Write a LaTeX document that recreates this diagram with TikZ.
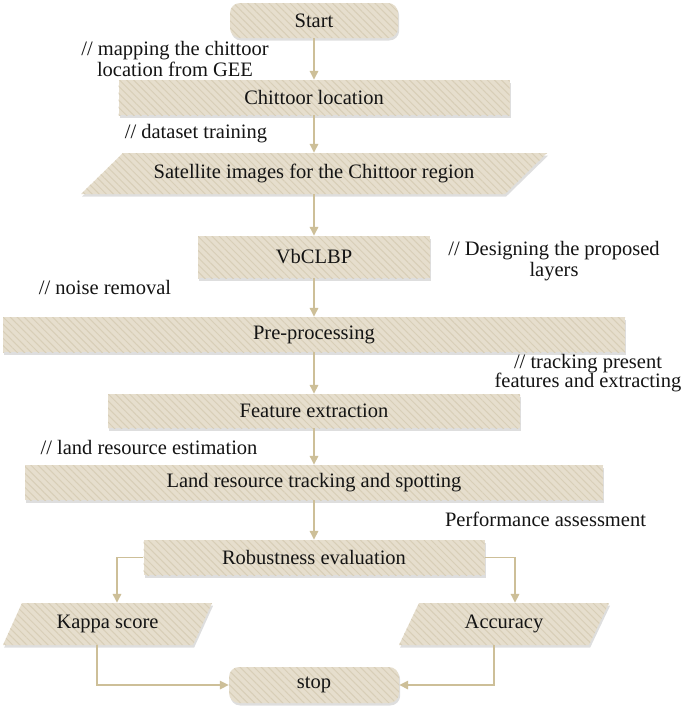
\documentclass[tikz,border=0pt]{standalone}
\usepackage{fontspec}
\setmainfont{Liberation Serif}
\usetikzlibrary{arrows.meta,patterns.meta,shadows}
\definecolor{boxbase}{HTML}{E6DECD}
\definecolor{boxstripe}{HTML}{D8CEB7}
\definecolor{arrowc}{HTML}{CDBF98}
\definecolor{txt}{HTML}{141414}
\tikzset{
  hatchfill/.style={drop shadow={shadow xshift=1.2pt,shadow yshift=-2.5pt,fill=black,opacity=0.13},
    preaction={fill=boxbase},
    pattern={Lines[angle=-45,distance=5pt,line width=1pt]}, pattern color=boxstripe},
  lbl/.style={text=txt, font=\fontsize{20.5}{21}\selectfont, inner sep=0pt},
  procbox/.style={hatchfill, rectangle, lbl},
  termbox/.style={hatchfill, rectangle, rounded corners=10pt, lbl},
  paratext/.style={rectangle, lbl},
  note/.style={lbl, align=center},
  arr/.style={draw=arrowc, line width=1.6pt, -{Triangle[width=8.5pt,length=9pt]}, fill=none},
}
\begin{document}
\begin{tikzpicture}[x=1pt,y=-1pt]
\useasboundingbox[fill=white] (0,0) rectangle (685,710);

% parallelogram shapes
\path[hatchfill] (81,194) -- (505,194) -- (547,153) -- (123,153) -- cycle;
\path[hatchfill] (3,645) -- (193,645) -- (212,603) -- (22,603) -- cycle;
\path[hatchfill] (399,645) -- (589,645) -- (609,603) -- (419,603) -- cycle;

% nodes
\node[termbox, minimum width=168pt, minimum height=35pt] (start) at (314,20.5) {Start};
\node[procbox, minimum width=391pt, minimum height=35pt] (loc) at (314,97.5) {Chittoor location};
\node[paratext, minimum width=424pt, minimum height=41pt] (sat) at (314,173.5) {Satellite images for the Chittoor region};
\node[procbox, minimum width=232pt, minimum height=42pt] (vb) at (314,257) {VbCLBP};
\node[procbox, minimum width=622pt, minimum height=35pt] (pre) at (314,334.5) {Pre-processing};
\node[procbox, minimum width=412pt, minimum height=34pt] (fe) at (314,411) {Feature extraction};
\node[procbox, minimum width=578pt, minimum height=35pt] (land) at (314,482.5) {Land resource tracking and spotting};
\node[procbox, minimum width=341pt, minimum height=35pt] (rob) at (314,557.5) {Robustness evaluation};
\node[paratext, minimum width=190pt, minimum height=42pt] (kappa) at (107.5,624) {Kappa score};
\node[paratext, minimum width=190pt, minimum height=42pt] (acc) at (504,624) {Accuracy};
\node[termbox, minimum width=170pt, minimum height=36pt] (stop) at (314,685) {stop};

% notes
\node[note] (n1) at (175,58.5) {// mapping the chittoor\\location from GEE};
\node[note] (n2) at (196,134) {// dataset training};
\node[note] (n3) at (554,261.5) {// Designing the proposed\\layers};
\node[note] (n4) at (105,287) {// noise removal};
\node[note, font=\fontsize{20.5}{19}\selectfont] (n5) at (588,373.5) {// tracking present\\features and extracting};
\node[note] (n6) at (149,447) {// land resource estimation};
\node[note] (n7) at (545.5,519) {Performance assessment};

% connectors
\draw[arr] (start.south) -- (loc.north);
\draw[arr] (loc.south) -- (sat.north);
\draw[arr] (sat.south) -- (vb.north);
\draw[arr] (vb.south) -- (pre.north);
\draw[arr] (pre.south) -- (fe.north);
\draw[arr] (fe.south) -- (land.north);
\draw[arr] (land.south) -- (rob.north);
\draw[arr] (rob.west) -| ([xshift=9.5pt]kappa.north);
\draw[arr] (rob.east) -| ([xshift=11pt]acc.north);
\draw[arr] ([xshift=-10.5pt]kappa.south) |- (stop.west);
\draw[arr] ([xshift=-10pt]acc.south) |- (stop.east);
\end{tikzpicture}
\end{document}
